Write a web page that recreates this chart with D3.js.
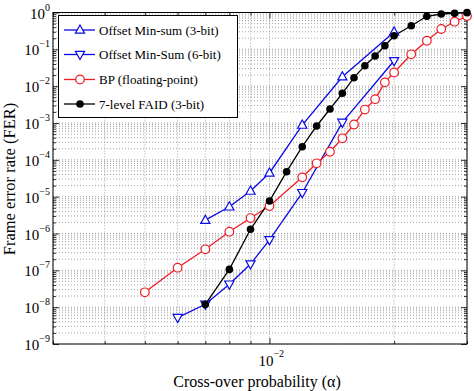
<!DOCTYPE html>
<html><head><meta charset="utf-8">
<script src="https://cdn.jsdelivr.net/npm/d3@7"></script>
<style>
html,body{margin:0;padding:0;background:#fff;}
svg text{font-family:"Liberation Serif","Times New Roman",serif;fill:#000;}
</style></head>
<body><svg id="c" width="474" height="391"></svg>
<script>
// ---- data ----
const alphaOMS3 = [0.007,0.008,0.009,0.01,0.012,0.015,0.02];
const ferOMS3   = [2.3e-6,5.3e-6,1.42e-5,4.4e-5,8.8e-4,1.8e-2,0.296];
const alphaOMS6 = [0.006,0.007,0.008,0.009,0.01,0.012,0.015,0.02];
const ferOMS6   = [5.2e-9,1.2e-8,4.2e-8,1.48e-7,6.7e-7,1.28e-5,1.04e-3,4.9e-2];
const alphaBP = [0.005,0.006,0.007,0.008,0.009,0.01,0.012,0.013,0.014,0.015,0.016,0.017,0.018,0.019,0.02,0.022,0.024,0.026,0.028,0.03];
const ferBP   = [2.53e-8,1.18e-7,3.72e-7,1.12e-6,2.63e-6,5.57e-6,3.35e-5,8.05e-5,1.66e-4,3.84e-4,9.1e-4,2.32e-3,4.43e-3,1.27e-2,2.35e-2,7.33e-2,0.171,0.356,0.562,0.80];
const alphaFAID = [0.007,0.008,0.009,0.01,0.011,0.012,0.013,0.014,0.015,0.016,0.017,0.018,0.019,0.02,0.022,0.024,0.026,0.028,0.03];
const ferFAID   = [1.19e-8,1.06e-7,1.30e-6,7.6e-6,4.76e-5,2.27e-4,8.3e-4,2.4e-3,6.4e-3,1.70e-2,3.6e-2,6.6e-2,0.125,0.234,0.438,0.788,0.91,0.95,0.99];
const seriesNames = ["Offset Min-sum (3-bit)","Offset Min-Sum (6-bit)","BP (floating-point)","7-level FAID (3-bit)"];
const xMajorTicks = [0.01];
const xMinorTicks = [0.003,0.004,0.005,0.006,0.007,0.008,0.009,0.02,0.03];
const yExponents = [0,-1,-2,-3,-4,-5,-6,-7,-8,-9];
const xLabel = "Cross-over probability (α)";
const yLabel = "Frame error rate (FER)";

// ---- layout ----
const L=53, R=467, T=12.5, B=344;
const svg = d3.select("#c");
const x = d3.scaleLog().domain([0.003,0.03]).range([L,R]);
const y = d3.scaleLog().domain([1e-9,1]).range([B,T]);

const yMinor = [];
for (let e=-9;e<0;e++) for (let m=2;m<=9;m++) yMinor.push(m*Math.pow(10,e));
const yMajor = yExponents.map(e=>Math.pow(10,e));

// grid
const grid = svg.append("g").attr("stroke","#8a8a8a").attr("stroke-width",0.8).attr("stroke-dasharray","1,2");
[...xMajorTicks,...xMinorTicks].forEach(v=>{
  grid.append("line").attr("x1",x(v)).attr("x2",x(v)).attr("y1",T).attr("y2",B);
});
[...yMajor,...yMinor].forEach(v=>{
  grid.append("line").attr("x1",L).attr("x2",R).attr("y1",y(v)).attr("y2",y(v));
});

// axes with inward ticks
const axG = svg.append("g");
function inTicks(axisFn, scale, vals, size){
  return axisFn(scale).tickValues(vals).tickSizeInner(-size).tickSizeOuter(0).tickFormat("");
}
function addAxis(fn, vals, size, tr){
  const g = axG.append("g").attr("transform",tr).call(inTicks(fn, fn===d3.axisBottom||fn===d3.axisTop?x:y, vals, size));
  g.select(".domain").remove();
  g.selectAll("line").attr("stroke","#000").attr("stroke-width",0.8);
}
addAxis(d3.axisBottom, xMajorTicks, 6, `translate(0,${B})`);
addAxis(d3.axisBottom, xMinorTicks, 3, `translate(0,${B})`);
addAxis(d3.axisTop, xMajorTicks, 6, `translate(0,${T})`);
addAxis(d3.axisTop, xMinorTicks, 3, `translate(0,${T})`);
addAxis(d3.axisLeft, yMajor, 6, `translate(${L},0)`);
addAxis(d3.axisLeft, yMinor, 3, `translate(${L},0)`);
addAxis(d3.axisRight, yMajor, 6, `translate(${R},0)`);
addAxis(d3.axisRight, yMinor, 3, `translate(${R},0)`);

// frame
svg.append("rect").attr("x",L).attr("y",T).attr("width",R-L).attr("height",B-T)
  .attr("fill","none").attr("stroke","#000").attr("stroke-width",1);

// y tick labels
yExponents.forEach(e=>{
  const t = svg.append("text").attr("x",50).attr("y",y(Math.pow(10,e))+6)
    .attr("text-anchor","end").attr("font-size",15);
  t.append("tspan").text("10");
  t.append("tspan").attr("font-size",10).attr("dy",-8).text(e===0?"0":"\u2212"+(-e));
});
// x tick label
xMajorTicks.forEach(v=>{
  const t = svg.append("text").attr("x",x(v)-11).attr("y",366).attr("font-size",15);
  t.append("tspan").text("10");
  t.append("tspan").attr("font-size",10).attr("dy",-9).text("\u22122");
});
// axis labels
svg.append("text").attr("x",257).attr("y",387).attr("text-anchor","middle").attr("font-size",16).text(xLabel);
svg.append("text").attr("transform","translate(15,179) rotate(-90)").attr("text-anchor","middle").attr("font-size",16.5).text(yLabel);

// series
const blue="#0a0ae6", red="#ee1c24", black="#000";
const upTri = "M0,-5L4.6,3.2L-4.6,3.2Z";
const dnTri = "M0,5L4.6,-3.2L-4.6,-3.2Z";
const series = [
  {a:alphaOMS3,f:ferOMS3,color:blue,marker:"up"},
  {a:alphaOMS6,f:ferOMS6,color:blue,marker:"down"},
  {a:alphaBP,f:ferBP,color:red,marker:"circle"},
  {a:alphaFAID,f:ferFAID,color:black,marker:"dot"}
];
const line = d3.line().x(d=>x(d[0])).y(d=>y(d[1]));
const plot = svg.append("g");
function drawMarker(g, type, color){
  if(type==="up") g.append("path").attr("d",upTri).attr("fill","#fff").attr("stroke",color).attr("stroke-width",1.2);
  else if(type==="down") g.append("path").attr("d",dnTri).attr("fill","#fff").attr("stroke",color).attr("stroke-width",1.2);
  else if(type==="circle") g.append("circle").attr("r",4.3).attr("fill","#fff").attr("stroke",color).attr("stroke-width",1.2);
  else g.append("circle").attr("r",3.8).attr("fill",color);
}
series.forEach(s=>{
  const pts = s.a.map((v,i)=>[v,s.f[i]]);
  plot.append("path").datum(pts).attr("d",line).attr("fill","none").attr("stroke",s.color).attr("stroke-width",1.3);
});
series.forEach(s=>{
  const pts = s.a.map((v,i)=>[v,s.f[i]]);
  pts.forEach(p=>{
    const g = plot.append("g").attr("transform",`translate(${x(p[0])},${y(p[1])})`);
    drawMarker(g, s.marker, s.color);
  });
});

// legend
const lg = svg.append("g");
lg.append("rect").attr("x",58.5).attr("y",15.5).attr("width",179).attr("height",102)
  .attr("fill","#fff").attr("stroke","#000").attr("stroke-width",1);
const rowY = [30,54.5,79.5,104];
series.forEach((s,i)=>{
  lg.append("line").attr("x1",64).attr("x2",95).attr("y1",rowY[i]).attr("y2",rowY[i]).attr("stroke",s.color).attr("stroke-width",1.3);
  const g = lg.append("g").attr("transform",`translate(80,${rowY[i]})`);
  drawMarker(g, s.marker, s.color);
  lg.append("text").attr("x",99).attr("y",rowY[i]+4.5).attr("font-size",13).text(seriesNames[i]);
});
</script></body></html>
